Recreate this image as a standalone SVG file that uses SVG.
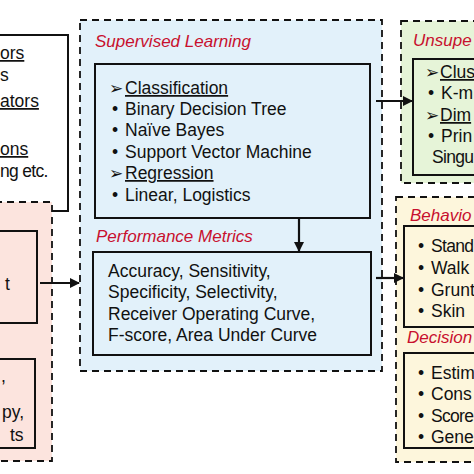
<svg xmlns="http://www.w3.org/2000/svg" width="474" height="474" viewBox="0 0 474 474">
<defs>
<style>
.t{font-family:"Liberation Sans",Arial,sans-serif;font-size:17.5px;fill:#111}
.h{font-family:"Liberation Sans",Arial,sans-serif;font-size:17px;font-style:italic;fill:#c8102e}
.dash{stroke:#111;stroke-width:1.8;stroke-dasharray:7,5}
.solid{fill:none;stroke:#111;stroke-width:2}
.u{text-decoration:underline}
.ar{font-family:"DejaVu Sans",sans-serif;font-size:17px}
.cn{stroke:#111;stroke-width:2.2;fill:none}
.tight{letter-spacing:-0.7px}
</style>
<marker id="ah" markerWidth="10" markerHeight="10" refX="9" refY="5" orient="auto" markerUnits="userSpaceOnUse">
<path d="M0,0 L10,5 L0,10 Z" fill="#111"/>
</marker>
</defs>
<rect width="474" height="474" fill="#fff"/>

<g id="sensors">
<rect x="-5" y="35" width="73" height="176" fill="#fff" class="solid"/>
<text class="t"><tspan class="u" x="0" y="59">ors</tspan></text>
<text class="t" x="0" y="81">s</text>
<text class="t"><tspan class="u" x="0" y="107">ators</tspan></text>
<text class="t"><tspan class="u" x="0" y="155">ons</tspan></text>
<text class="t tight" x="0" y="177">ng etc.</text>
</g>

<g id="input">
<rect x="-5" y="202" width="57" height="259" fill="#fce4de" class="dash"/>
<rect x="-5" y="231" width="42" height="92" class="solid"/>
<text class="t" x="5" y="290">t</text>
<rect x="-5" y="359" width="40" height="89" class="solid"/>
<text class="t" x="1" y="382">,</text>
<text class="t" x="2" y="418">py,</text>
<text class="t" x="10" y="441">ts</text>
</g>

<g id="supervised">
<rect x="80" y="20" width="302" height="351" fill="#e2f1fa" class="dash"/>
<text class="h" x="95" y="47">Supervised Learning</text>
<rect x="95" y="64" width="275" height="154" class="solid"/>
<text class="t"><tspan class="ar" x="109" y="94">➢</tspan><tspan class="u" x="125" y="94">Classification</tspan></text>
<text class="t" x="112" y="115">•</text><text class="t" x="125" y="115">Binary Decision Tree</text>
<text class="t" x="112" y="136">•</text><text class="t" x="125" y="136">Naïve Bayes</text>
<text class="t" x="112" y="158">•</text><text class="t" x="125" y="158">Support Vector Machine</text>
<text class="t"><tspan class="ar" x="109" y="179">➢</tspan><tspan class="u" x="125" y="179">Regression</tspan></text>
<text class="t" x="112" y="201">•</text><text class="t" x="125" y="201">Linear, Logistics</text>
</g>

<g id="metrics">
<text class="h" x="96" y="242">Performance Metrics</text>
<rect x="93" y="252" width="278" height="103" class="solid"/>
<text class="t" x="108" y="277">Accuracy, Sensitivity,</text>
<text class="t" x="108" y="298">Specificity, Selectivity,</text>
<text class="t" x="108" y="320">Receiver Operating Curve,</text>
<text class="t" x="108" y="341">F-score, Area Under Curve</text>
</g>

<g id="unsupervised">
<rect x="401" y="21" width="80" height="162" fill="#e6f4d8" class="dash"/>
<text class="h" x="413" y="46">Unsupe</text>
<rect x="413" y="59" width="70" height="116" class="solid"/>
<text class="t"><tspan class="ar" x="425" y="78">➢</tspan><tspan class="u" x="440" y="78">Clus</tspan></text>
<text class="t" x="428" y="99">•</text><text class="t" x="441" y="99">K-m</text>
<text class="t"><tspan class="ar" x="425" y="121">➢</tspan><tspan class="u" x="440" y="121">Dim</tspan></text>
<text class="t" x="428" y="142">•</text><text class="t" x="441" y="142">Prin</text>
<text class="t tight" x="432" y="163">Singu</text>
</g>

<g id="behavior">
<rect x="396" y="197" width="85" height="265" fill="#fdf6dc" class="dash"/>
<text class="h" x="410" y="221">Behavio</text>
<rect x="404" y="226" width="79" height="101" class="solid"/>
<text class="t" x="418" y="252">•</text><text class="t tight" x="431" y="252">Stand</text>
<text class="t" x="418" y="274">•</text><text class="t" x="431" y="274">Walk</text>
<text class="t" x="418" y="296">•</text><text class="t" x="431" y="296">Grunt</text>
<text class="t" x="418" y="317">•</text><text class="t" x="431" y="317">Skin</text>
<text class="h" x="407" y="343">Decision</text>
<rect x="404" y="353" width="79" height="95" class="solid"/>
<text class="t" x="418" y="379">•</text><text class="t" x="431" y="379">Estim</text>
<text class="t" x="418" y="400">•</text><text class="t" x="431" y="400">Cons</text>
<text class="t" x="418" y="422">•</text><text class="t tight" x="431" y="422">Score</text>
<text class="t" x="418" y="443">•</text><text class="t" x="431" y="443">Gene</text>
</g>

<g id="connectors">
<path class="cn" d="M299,218 V251" marker-end="url(#ah)"/>
<path class="cn" d="M40,283 H79" marker-end="url(#ah)"/>
<path class="cn" d="M376,101 H412" marker-end="url(#ah)"/>
<path class="cn" d="M376,278 H403" marker-end="url(#ah)"/>
</g>
</svg>
